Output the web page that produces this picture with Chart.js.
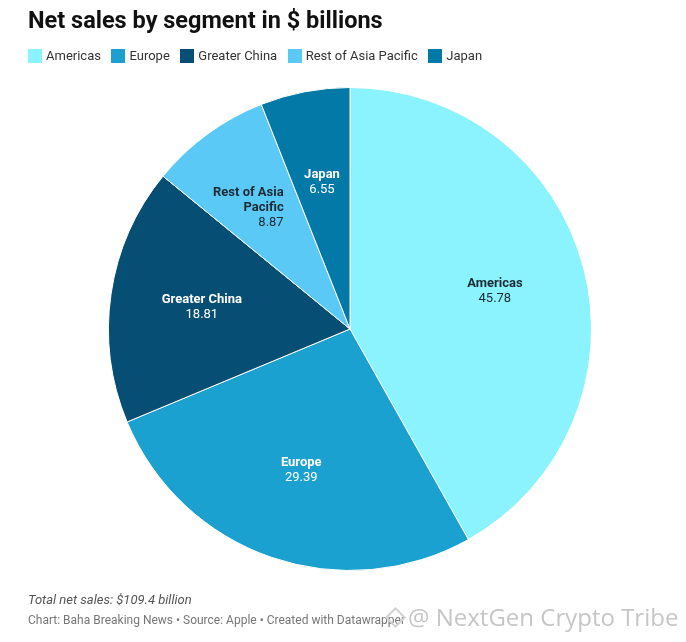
<!DOCTYPE html>
<html>
<head>
<meta charset="utf-8">
<script src="https://cdn.jsdelivr.net/npm/chart.js@4"></script>
<style>
  body { margin: 0; background: #fff; font-family: Roboto, sans-serif; }
  #wrap { position: relative; width: 686px; height: 642px; }
  canvas { position: absolute; left: 0; top: 0; }
  #title { position: absolute; left: 28px; top: 6px; font-size: 23.5px; font-weight: bold; color: #111; }
  #legend { position: absolute; left: 28px; top: 48px; display: flex; font-size: 13px; color: #333; }
  #legend .item { display: flex; align-items: center; margin-right: 10.5px; }
  #legend .box { width: 14px; height: 14px; margin-right: 4px; }
  #footer { position: absolute; left: 28px; top: 592px; }
  .note { font-style: italic; font-size: 13px; color: #555; }
  .src { font-size: 12px; color: #777; margin-top: 6px; }
  .mark { position: absolute; left: 408px; top: 603px; font-size: 24px; line-height: 28px; color: #c6c6c6; font-family: "Open Sans", sans-serif; }
  .logo { position: absolute; left: 388px; top: 610px; width: 11px; height: 11px; border: 2px solid #d2d2d2; transform: rotate(45deg); }
</style>
</head>
<body>
<div id="wrap">
  <canvas id="myChart" width="686" height="642"></canvas>
  <div id="title">Net sales by segment in $ billions</div>
  <div id="legend"></div>
  <div id="footer">
    <div class="note">Total net sales: $109.4 billion</div>
    <div class="src">Chart: Baha Breaking News • Source: Apple • Created with Datawrapper</div>
  </div>
  <div class="logo"></div>
  <div class="mark">@ NextGen Crypto Tribe</div>
</div>
<script>
// dados do grafico
const segments = ['Americas', 'Europe', 'Greater China', 'Rest of Asia Pacific', 'Japan'];
const sales = [45.78, 29.39, 18.81, 8.87, 6.55];
const colors = ['#8af3fe', '#1ba1cf', '#064e73', '#5ac9f6', '#0379a8'];
const labelColors = ['#1b2a33', '#ffffff', '#ffffff', '#1b2a33', '#ffffff'];

// legenda em html montada a partir dos arrays
const legend = document.getElementById('legend');
segments.forEach((name, i) => {
    const item = document.createElement('div');
    item.className = 'item';
    item.innerHTML = '<span class="box" style="background:' + colors[i] + '"></span>' + name;
    legend.appendChild(item);
});

// escreve nome + valor dentro de cada fatia
const sliceLabels = {
    id: 'sliceLabels',
    afterDatasetsDraw(chart) {
        const ctx = chart.ctx;
        const meta = chart.getDatasetMeta(0);
        meta.data.forEach((arc, i) => {
            const mid = (arc.startAngle + arc.endAngle) / 2;
            const r = arc.outerRadius * 0.62;
            const x = arc.x + Math.cos(mid) * r;
            const y = arc.y + Math.sin(mid) * r;
            let lines = [segments[i]];
            let align = 'center';
            let ax = x;
            ctx.font = 'bold 13px Roboto';
            if (ctx.measureText(segments[i]).width > 100) {
                // nome comprido quebra em duas linhas, alinhado a direita
                const words = segments[i].split(' ');
                lines = [words.slice(0, 3).join(' '), words.slice(3).join(' ')];
                align = 'right';
                ax = x + 22;
            }
            const all = lines.concat([sales[i].toFixed(2)]);
            const lh = 15;
            const top = y - (all.length - 1) * lh / 2;
            ctx.save();
            ctx.fillStyle = labelColors[i];
            ctx.textAlign = align;
            ctx.textBaseline = 'middle';
            all.forEach((t, k) => {
                ctx.font = (k < lines.length ? 'bold ' : '') + '13px Roboto';
                ctx.fillText(t, ax, top + k * lh);
            });
            ctx.restore();
        });
    }
};

const ctx = document.getElementById('myChart');
new Chart(ctx, {
    type: 'pie',
    data: {
        labels: segments,
        datasets: [{
            data: sales,
            backgroundColor: colors,
            borderColor: '#ffffff',
            borderWidth: 1
        }]
    },
    options: {
        responsive: false,
        animation: false,
        layout: { padding: { left: 28, right: 14, top: 87, bottom: 71 } },
        plugins: {
            legend: { display: false },
            tooltip: { enabled: false }
        }
    },
    plugins: [sliceLabels]
});
</script>
</body>
</html>
